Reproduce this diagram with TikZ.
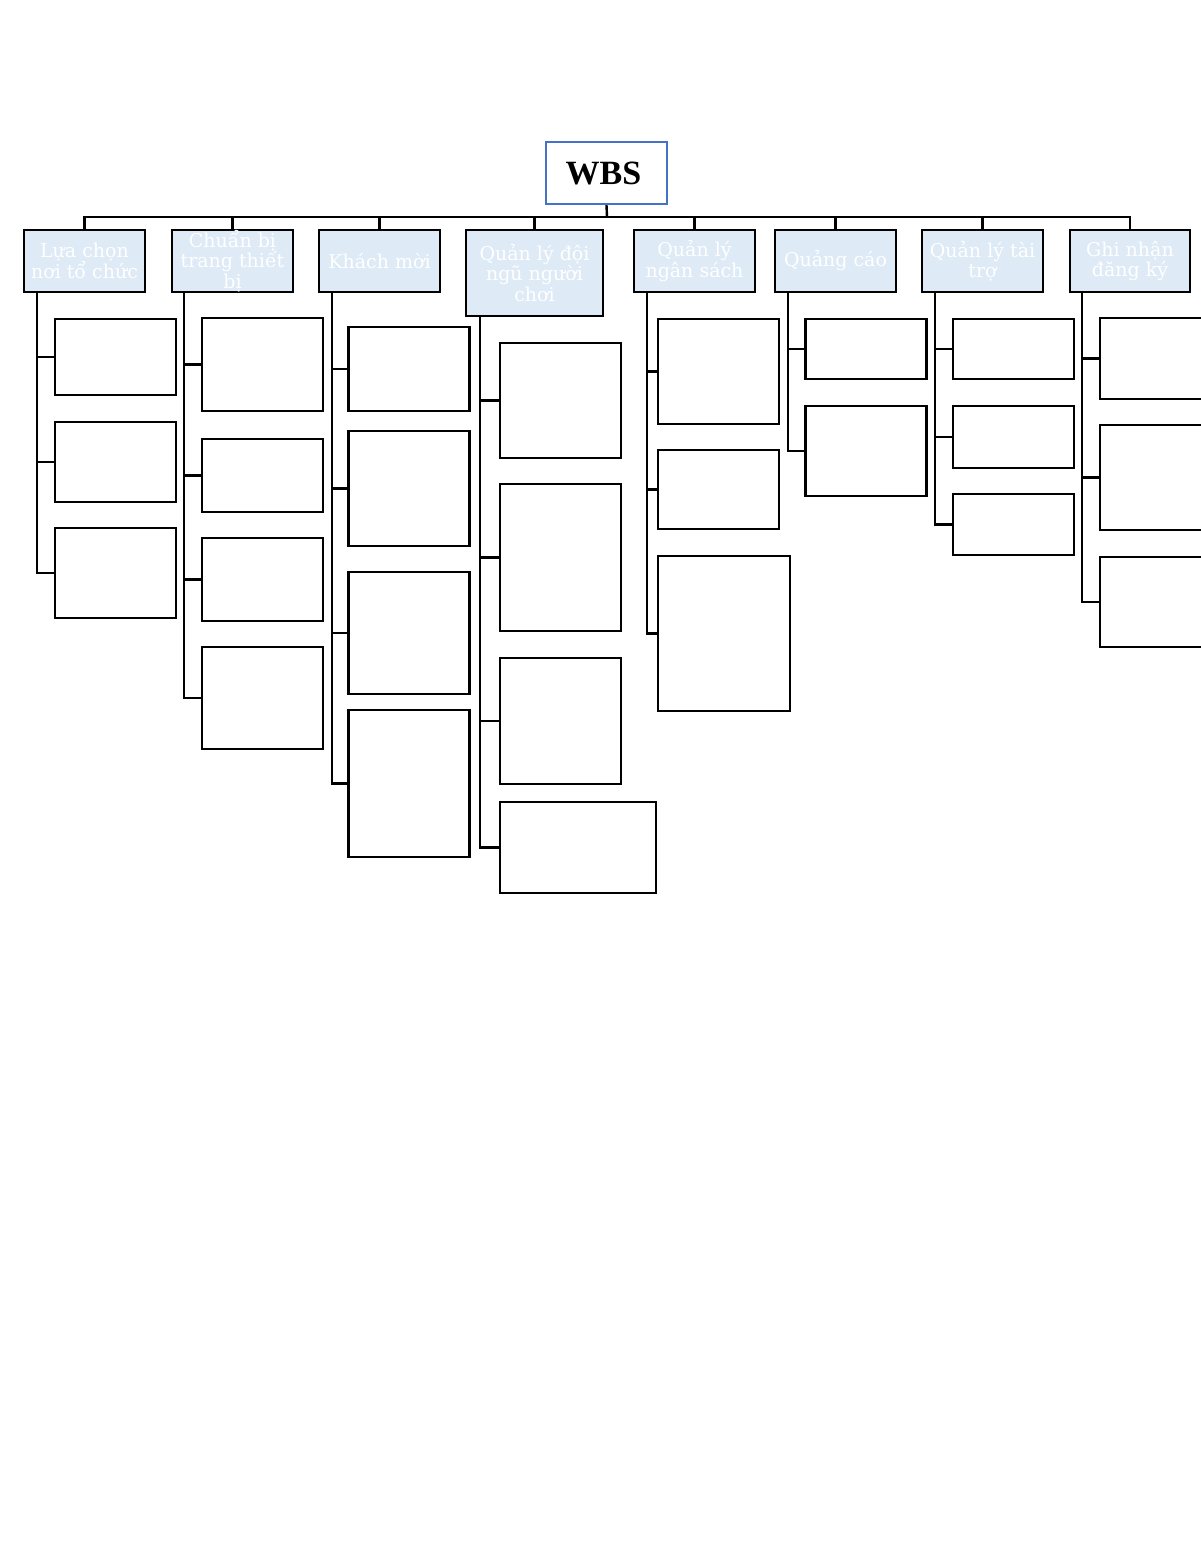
\documentclass[tikz,border=0pt]{standalone}
\usepackage{fontspec}
\setmainfont{DejaVu Serif}
\newfontfamily\wbsfont{Liberation Serif}
\definecolor{headfill}{HTML}{DEEAF6}
\definecolor{rootblue}{HTML}{4472C4}
\tikzset{
  root/.style={draw=rootblue, line width=2.4pt, fill=white, inner sep=0pt, minimum width=121, minimum height=62, font=\wbsfont\fontsize{34}{34}\selectfont\bfseries},
  head/.style={draw, line width=2.4pt, fill=headfill, text=white, inner sep=0pt, align=center, minimum width=121, minimum height=62, font=\fontsize{19}{20.5}\selectfont},
  leaf/.style={draw, line width=2.4pt, fill=white, inner sep=0pt, minimum width=121},
  link/.style={line width=2.4pt}
}
\begin{document}
\begin{tikzpicture}[x=1pt, y=-1pt]
        \useasboundingbox (0,0) rectangle (1200,1553);

        \node[root] (wbs) at (606.5,173) {WBS\hspace*{6pt}};
        \coordinate (bus) at (607,217);

        \node[head] (h1) at (84.5,261) {Lựa chọn\\nơi tổ chức};
        \node[head] (h2) at (232.5,261) {Chuẩn bị\\trang thiết\\bị};
        \node[head] (h3) at (379.5,261) {Khách mời};
        \node[head, minimum width=137, minimum height=86] (h4) at (534.5,273) {Quản lý đội\\ngũ người\\chơi};
        \node[head] (h5) at (694.5,261) {Quản lý\\ngân sách};
        \node[head] (h6) at (835.5,261) {Quảng cáo};
        \node[head] (h7) at (982.5,261) {Quản lý tài\\trợ};
        \node[head, minimum width=120] (h8) at (1130,261) {Ghi nhận\\đăng ký};

        \coordinate (s1) at (37,292);
        \coordinate (s2) at (184,292);
        \coordinate (s3) at (332,292);
        \coordinate (s4) at (480,316);
        \coordinate (s5) at (647,292);
        \coordinate (s6) at (788,292);
        \coordinate (s7) at (935,292);
        \coordinate (s8) at (1082,292);

        \node[leaf, minimum height=76] (a1) at (115.5,357) {};
        \node[leaf, minimum height=80] (a2) at (115.5,462) {};
        \node[leaf, minimum height=90] (a3) at (115.5,573) {};

        \node[leaf, minimum height=93] (b1) at (262.5,364.5) {};
        \node[leaf, minimum height=73] (b2) at (262.5,475.5) {};
        \node[leaf, minimum height=83] (b3) at (262.5,579.5) {};
        \node[leaf, minimum height=102] (b4) at (262.5,698) {};

        \node[leaf, minimum height=84] (c1) at (409,369) {};
        \node[leaf, minimum height=115] (c2) at (409,488.5) {};
        \node[leaf, minimum height=122] (c3) at (409,633) {};
        \node[leaf, minimum height=147] (c4) at (409,783.5) {};

        \node[leaf, minimum height=115] (d1) at (560.5,400.5) {};
        \node[leaf, minimum height=147] (d2) at (560.5,557.5) {};
        \node[leaf, minimum height=126] (d3) at (560.5,721) {};
        \node[leaf, minimum width=156, minimum height=91] (d4) at (578,847.5) {};

        \node[leaf, minimum height=105] (e1) at (718.5,371.5) {};
        \node[leaf, minimum height=79] (e2) at (718.5,489.5) {};
        \node[leaf, minimum width=132, minimum height=155] (e3) at (724,633.5) {};

        \node[leaf, minimum height=60] (f1) at (866,349) {};
        \node[leaf, minimum height=90] (f2) at (866,451) {};

        \node[leaf, minimum height=60] (g1) at (1013.5,349) {};
        \node[leaf, minimum height=62] (g2) at (1013.5,437) {};
        \node[leaf, minimum height=61] (g3) at (1013.5,524.5) {};

        \node[leaf, minimum width=130, minimum height=81] (k1) at (1165,358.5) {};
        \node[leaf, minimum width=130, minimum height=105] (k2) at (1165,477.5) {};
        \node[leaf, minimum width=130, minimum height=90] (k3) at (1165,602) {};

        \draw[link] (wbs.south) -- (bus);
        \foreach \h in {h1,h2,h3,h4,h5,h6,h7,h8}
            \draw[link] (bus) -| (\h.north);

        \draw[link] (s1) |- (a1.west) (s1) |- (a2.west) (s1) |- (a3.west);
        \draw[link] (s2) |- (b1.west) (s2) |- (b2.west) (s2) |- (b3.west) (s2) |- (b4.west);
        \draw[link] (s3) |- (c1.west) (s3) |- (c2.west) (s3) |- (c3.west) (s3) |- (c4.west);
        \draw[link] (s4) |- (d1.west) (s4) |- (d2.west) (s4) |- (d3.west) (s4) |- (d4.west);
        \draw[link] (s5) |- (e1.west) (s5) |- (e2.west) (s5) |- (e3.west);
        \draw[link] (s6) |- (f1.west) (s6) |- (f2.west);
        \draw[link] (s7) |- (g1.west) (s7) |- (g2.west) (s7) |- (g3.west);
        \draw[link] (s8) |- (k1.west) (s8) |- (k2.west) (s8) |- (k3.west);
    \end{tikzpicture}
\end{document}
